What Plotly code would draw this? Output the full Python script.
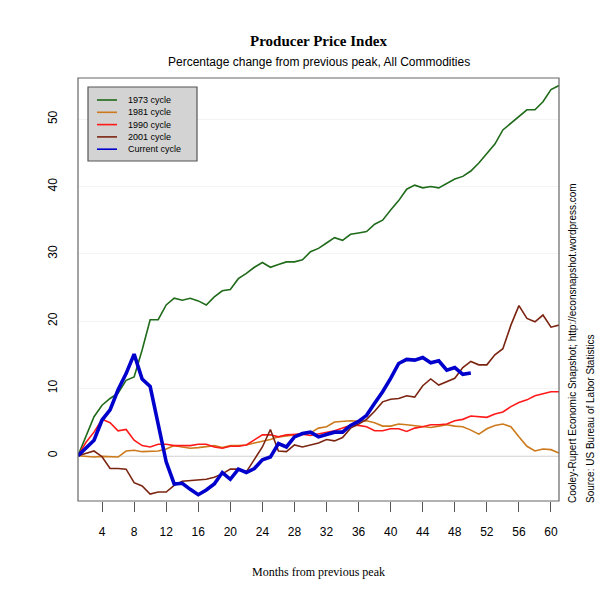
import plotly.graph_objects as go

months = list(range(1, 62))

cycle_1973 = [0, 2.8, 5.8, 7.5, 8.5, 9.3, 11.2, 11.7, 15.7, 20.2, 20.2, 22.4, 23.4, 23.1, 23.4,
              23.0, 22.4, 23.6, 24.5, 24.7, 26.3, 27.1, 28.0, 28.7, 28.0, 28.4, 28.8, 28.8, 29.1,
              30.3, 30.8, 31.6, 32.4, 32.0, 32.9, 33.1, 33.3, 34.4, 35.0, 36.5, 37.9, 39.6, 40.2,
              39.8, 40.0, 39.8, 40.4, 41.1, 41.5, 42.3, 43.5, 44.9, 46.3, 48.4, 49.4, 50.5, 51.4,
              51.4, 52.6, 54.4, 55.0]

cycle_1981 = [0, -0.1, -0.2, -0.1, -0.2, -0.2, 0.7, 0.8, 0.6, 0.6, 0.7, 1.0, 1.5, 1.3, 1.1,
              1.2, 1.3, 1.5, 1.2, 1.5, 1.5, 1.6, 1.9, 2.1, 2.4, 2.8, 2.9, 3.1, 3.3, 3.4, 4.1,
              4.3, 5.0, 5.1, 5.2, 5.1, 5.2, 4.9, 4.4, 4.4, 4.7, 4.6, 4.5, 4.3, 4.2, 4.4, 4.6,
              4.4, 4.3, 3.8, 3.2, 4.0, 4.5, 4.7, 4.3, 2.8, 1.4, 0.7, 1.0, 0.9, 0.4]

cycle_1990 = [0, 2.0, 3.5, 5.4, 4.9, 3.7, 3.9, 2.3, 1.5, 1.3, 1.7, 1.7, 1.5, 1.5, 1.5, 1.7,
              1.7, 1.3, 1.1, 1.4, 1.4, 1.6, 2.3, 3.1, 3.1, 2.8, 3.1, 3.2, 3.2, 3.0, 3.2, 3.4,
              3.7, 4.1, 4.5, 4.5, 4.3, 3.7, 3.7, 4.0, 4.0, 3.6, 4.1, 4.3, 4.6, 4.6, 4.7, 5.2,
              5.4, 5.9, 5.8, 5.7, 6.2, 6.5, 7.3, 7.9, 8.3, 8.9, 9.2, 9.5, 9.5]

cycle_2001 = [0, 0.35, 0.7, -0.15, -1.9, -1.9, -2.0, -4.0, -4.5, -5.7, -5.4, -5.4, -4.4, -3.8,
              -3.7, -3.6, -3.5, -3.2, -2.7, -2.0, -2.0, -2.4, -0.6, 1.3, 3.9, 0.7, 0.6, 1.6,
              1.3, 1.6, 1.9, 2.4, 2.2, 2.7, 4.1, 4.7, 5.4, 6.6, 8.0, 8.4, 8.5, 8.9, 8.7, 10.4,
              11.4, 10.5, 11.0, 11.5, 13.1, 14.0, 13.5, 13.5, 15.0, 15.9, 19.4, 22.3, 20.4,
              19.9, 20.9, 19.1, 19.4]

cycle_current = [0, 1.1, 2.3, 5.3, 6.8, 9.8, 12.2, 15.1, 11.4, 10.3, 4.8, -0.9, -4.2, -4.1,
                 -5.0, -5.8, -5.1, -4.2, -2.5, -3.5, -2.0, -2.5, -1.9, -0.6, -0.2, 1.8, 1.3,
                 2.8, 3.3, 3.5, 2.8, 3.2, 3.5, 3.5, 4.5, 5.1, 6.0, 7.8, 9.5, 11.5, 13.7, 14.3,
                 14.2, 14.6, 13.8, 14.1, 12.7, 13.1, 12.1, 12.3]

series_names = ["1973 cycle", "1981 cycle", "1990 cycle", "2001 cycle", "Current cycle"]
series_values = [cycle_1973, cycle_1981, cycle_1990, cycle_2001, cycle_current]
series_colors = ["#1f6b1a", "#cc7a1c", "#ff1a1a", "#7b2410", "#0000cc"]
series_widths = [1.6, 1.6, 1.6, 1.6, 3.6]

x_ticks = list(range(4, 61, 4))
y_ticks = list(range(0, 51, 10))

# plot area in pixels
L, R, T, B = 78, 559, 78, 501
W, H = R - L, B - T


def px(x):
    return (x - L) / W


def py(y):
    return (B - y) / H


fig = go.Figure()

for name, vals, col, w in zip(series_names, series_values, series_colors, series_widths):
    fig.add_trace(go.Scatter(x=months[:len(vals)], y=vals, mode="lines", name=name,
                             line=dict(color=col, width=w), showlegend=False,
                             hoverinfo="x+y+name"))

shapes = []
annotations = []

# zero line
shapes.append(dict(type="line", xref="paper", yref="y", x0=0, x1=1, y0=0, y1=0,
                   line=dict(color="#555555", width=1), layer="below"))
# plot box
shapes.append(dict(type="rect", xref="paper", yref="paper", x0=0, x1=1, y0=0, y1=1,
                   line=dict(color="#666666", width=1.2)))

# manual legend box
lg_l, lg_r, lg_t, lg_b = 88, 197, 87, 161
shapes.append(dict(type="rect", xref="paper", yref="paper", x0=px(lg_l), x1=px(lg_r),
                   y0=py(lg_b), y1=py(lg_t), fillcolor="#d3d3d3",
                   line=dict(color="#555555", width=1.2)))
row_y = [100, 112.3, 124.6, 136.9, 149.2]
for name, col, ry in zip(series_names, series_colors, row_y):
    shapes.append(dict(type="line", xref="paper", yref="paper", x0=px(97), x1=px(117),
                       y0=py(ry), y1=py(ry), line=dict(color=col, width=1.6)))
    annotations.append(dict(text=name, xref="paper", yref="paper", x=px(126), y=py(ry),
                            xanchor="left", yanchor="middle", showarrow=False,
                            font=dict(family="Liberation Sans", size=9, color="#000000")))

# titles
annotations.append(dict(text="<b>Producer Price Index</b>", xref="paper", yref="paper",
                        x=0.5, y=py(41), xanchor="center", yanchor="middle", showarrow=False,
                        font=dict(family="Liberation Serif", size=15, color="#000000")))
annotations.append(dict(text="Percentage change from previous peak, All Commodities",
                        xref="paper", yref="paper", x=0.5, y=py(62), xanchor="center",
                        yanchor="middle", showarrow=False,
                        font=dict(family="Liberation Sans", size=12, color="#000000")))
annotations.append(dict(text="Months from previous peak", xref="paper", yref="paper",
                        x=0.5, y=py(572), xanchor="center", yanchor="middle", showarrow=False,
                        font=dict(family="Liberation Serif", size=12, color="#000000")))
annotations.append(dict(text="Cooley-Rupert Economic Snapshot; http://econsnapshot.wordpress.com",
                        xref="paper", yref="paper", x=px(572), y=py(505), xanchor="center",
                        yanchor="bottom", textangle=-90, showarrow=False,
                        font=dict(family="Liberation Sans", size=10, color="#000000")))
annotations.append(dict(text="Source: US Bureau of Labor Statistics",
                        xref="paper", yref="paper", x=px(590), y=py(505), xanchor="center",
                        yanchor="bottom", textangle=-90, showarrow=False,
                        font=dict(family="Liberation Sans", size=10, color="#000000")))

fig.update_layout(
    width=600, height=600,
    margin=dict(l=L, r=600 - R, t=T, b=600 - B, pad=0),
    paper_bgcolor="white", plot_bgcolor="white",
    shapes=shapes, annotations=annotations,
    showlegend=False,
    xaxis=dict(range=[1, 61], tickvals=x_ticks, ticktext=[str(t) for t in x_ticks],
               ticks="outside", ticklen=10, tickcolor="#555555", tickwidth=1,
               showgrid=False, zeroline=False, showline=False,
               ticklabelstandoff=10,
               tickfont=dict(family="Liberation Sans", size=12, color="#000000")),
    yaxis=dict(range=[-6.73, 56.12], tickvals=y_ticks, ticktext=[str(t) for t in y_ticks],
               ticks="", tickangle=-90, showgrid=True, gridcolor="#f3f3f3", gridwidth=1,
               zeroline=False, showline=False, ticklabelstandoff=18,
               tickfont=dict(family="Liberation Sans", size=12, color="#000000")),
)

fig.write_html("out.html")
